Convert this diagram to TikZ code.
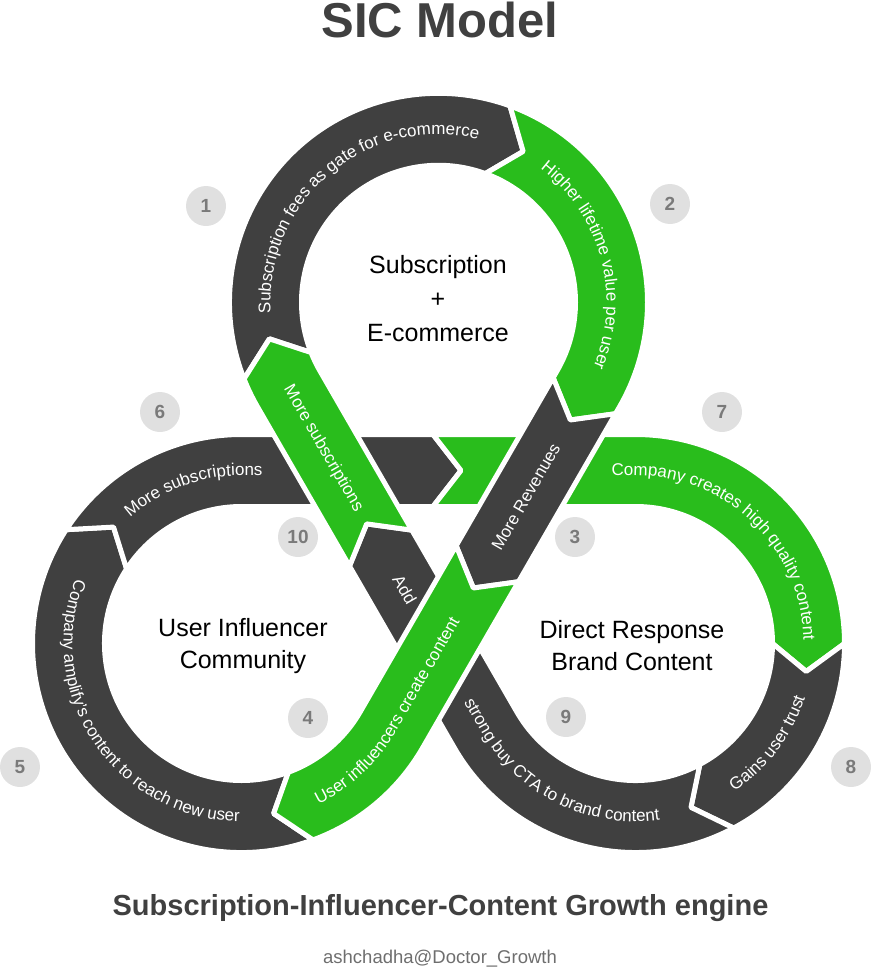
\documentclass[tikz,border=0pt]{standalone}
\usepackage{fontspec}
\setmainfont{Liberation Sans}
\usetikzlibrary{calc,decorations.text}
\definecolor{bandgray}{RGB}{64,64,64}
\definecolor{bandgreen}{RGB}{41,189,28}
\definecolor{badgefill}{RGB}{224,224,224}
\definecolor{badgetext}{RGB}{122,122,122}
\definecolor{credittext}{RGB}{110,110,110}
\newcommand{\bandfont}{\fontsize{17}{17}\selectfont}
\tikzset{
  darkband/.style={draw=white, line width=5pt, line join=round, fill=bandgray},
  greenband/.style={draw=white, line width=5pt, line join=round, fill=bandgreen},
  badge/.style={circle, fill=badgefill, text=badgetext, minimum size=40pt, inner sep=0pt,
    font=\fontsize{19}{19}\selectfont\bfseries},
  hub/.style={align=center, font=\fontsize{25}{34}\selectfont},
  bandtext/.style={text=white, font=\bandfont, inner sep=0pt},
  curved/.style={decorate, decoration={text along path, text align=center,
    text color=white, text={|\bandfont|#1}}}
}

\begin{document}
\begin{tikzpicture}[x=1pt,y=-1pt]
\useasboundingbox (0,0) rectangle (872,969);
\coordinate (T) at (438.5,302.3);
\coordinate (L) at (241.5,643.5);
\coordinate (R) at (635.5,643.5);
\draw[darkband] ($(T)+(158.5:209)$) arc[start angle=158.5,end angle=290,radius=209]
  -- ($(T)+(299.3:173)$) -- ($(T)+(290:137)$) arc[start angle=290,end angle=158.5,radius=137]
  -- ($(T)+(167.8:173)$) -- cycle;
\draw[greenband] ($(T)+(290:209)$) arc[start angle=290,end angle=390,radius=209]
  -- ($(T)+(30:209)+(120:8)$) -- ($(T)+(30:173)+(120:36)$) -- ($(T)+(30:137)+(120:8)$)
  -- ($(T)+(30:137)$) arc[start angle=30,end angle=-70,radius=137]
  -- ($(T)+(299.3:173)$) -- cycle;
\draw[darkband] ($(L)+(70:209)$) arc[start angle=70,end angle=213,radius=209]
  -- ($(L)+(222.3:173)$) -- ($(L)+(213:137)$) arc[start angle=213,end angle=70,radius=137]
  -- ($(L)+(79.3:173)$) -- cycle;
\draw[darkband] ($(L)+(213:209)$) arc[start angle=213,end angle=270,radius=209]
  -- ($(L)+(270:209)+(191.5,0)$) -- ($(L)+(270:173)+(219.5,0)$) -- ($(L)+(270:137)+(191.5,0)$)
  -- ($(L)+(270:137)$) arc[start angle=270,end angle=213,radius=137]
  -- ($(L)+(222.3:173)$) -- cycle;
\draw[greenband] ($(L)+(270:209)+(191.5,0)$) -- ($(R)+(270:209)$) arc[start angle=270,end angle=360,radius=209]
  -- ($(R)+(9.3:173)$) -- ($(R)+(0:137)$) arc[start angle=360,end angle=270,radius=137]
  -- ($(L)+(270:137)+(191.5,0)$) -- ($(L)+(270:173)+(219.5,0)$) -- cycle;
\draw[darkband] ($(R)+(0:209)$) arc[start angle=0,end angle=62,radius=209]
  -- ($(R)+(71.3:173)$) -- ($(R)+(62:137)$) arc[start angle=62,end angle=0,radius=137]
  -- ($(R)+(9.3:173)$) -- cycle;
\draw[darkband] ($(R)+(62:209)$) arc[start angle=62,end angle=150,radius=209]
  -- ($(R)+(150:209)+(240:210)$) -- ($(R)+(150:173)+(240:238)$) -- ($(R)+(150:137)+(240:210)$)
  -- ($(R)+(150:137)$) arc[start angle=150,end angle=62,radius=137]
  -- ($(R)+(71.3:173)$) -- cycle;
\draw[greenband] ($(R)+(150:209)+(240:210)$) -- ($(T)+(150:209)$) arc[start angle=150,end angle=158.5,radius=209]
  -- ($(T)+(167.8:173)$) -- ($(T)+(158.5:137)$) arc[start angle=158.5,end angle=150,radius=137]
  -- ($(R)+(150:137)+(240:210)$) -- ($(R)+(150:173)+(240:238)$) -- cycle;
\draw[darkband] ($(T)+(30:209)+(120:8)$) -- ($(T)+(30:209)+(120:202)$) -- ($(T)+(30:173)+(120:230)$)
  -- ($(T)+(30:137)+(120:202)$) -- ($(T)+(30:137)+(120:8)$) -- ($(T)+(30:173)+(120:36)$) -- cycle;
\draw[greenband] ($(T)+(30:209)+(120:202)$) -- ($(L)+(30:209)$) arc[start angle=30,end angle=70,radius=209]
  -- ($(L)+(79.3:173)$) -- ($(L)+(70:137)$) arc[start angle=70,end angle=30,radius=137]
  -- ($(T)+(30:137)+(120:202)$) -- ($(T)+(30:173)+(120:230)$) -- cycle;

\path[curved={Subscription fees as gate for e-commerce}] ($(T)+(150:168)$) arc[start angle=150,end angle=310,radius=168];
\path[curved={Higher lifetime value per user}] ($(T)+(295:168)$) arc[start angle=295,end angle=395,radius=168];
\path[curved={Company amplify's content to reach new user}] ($(L)+(226:178)$) arc[start angle=226,end angle=66,radius=178];
\path[curved={More subscriptions}] ($(L)+(222:168)$) arc[start angle=222,end angle=270,radius=168] -- ++(40,0);
\path[curved={Company creates high quality content}] ($(L)+(270:168)+(320,0)$) -- ($(R)+(270:168)$) arc[start angle=270,end angle=376,radius=168];
\path[curved={Gains user trust}] ($(R)+(75:178)$) arc[start angle=75,end angle=-1,radius=178];
\path[curved={strong buy CTA to brand content}] ($(R)+(150:178)+(240:40)$) -- ($(R)+(150:178)$) arc[start angle=150,end angle=80.5,radius=178];
\path[curved={User influencers create content}] ($(L)+(67:178)$) arc[start angle=67,end angle=30,radius=178] -- ++(300:137);
\node[bandtext, rotate=60] (revenues) at ($(T)+(30:173)+(120:125)$) {More Revenues};
\node[bandtext, rotate=-60] (moresubs) at ($(R)+(150:173)+(240:325)$) {More subscriptions};
\node[bandtext, rotate=-60] (add) at ($(R)+(150:173)+(240:162)$) {Add};

\node[hub] (top) at (438,299) {Subscription\\+\\E-commerce};
\node[hub, font=\fontsize{25}{32}\selectfont] (community) at (243,646) {User Influencer\\Community};
\node[hub, font=\fontsize{25}{32}\selectfont] (brand) at (632,646) {Direct Response\\Brand Content};

\node[badge] (n1) at (206,206) {1};
\node[badge] (n2) at (670,204) {2};
\node[badge] (n3) at (575,537) {3};
\node[badge] (n4) at (308,718) {4};
\node[badge] (n5) at (20,767) {5};
\node[badge] (n6) at (160,412) {6};
\node[badge] (n7) at (722,412) {7};
\node[badge] (n8) at (851,767) {8};
\node[badge] (n9) at (566,717) {9};
\node[badge] (n10) at (298,537) {10};

\node[anchor=base, text=bandgray, font=\fontsize{49}{49}\selectfont\bfseries] (title) at (440,37.5) {SIC Model};
\node[anchor=base, text=bandgray, font=\fontsize{29}{29}\selectfont\bfseries] (engine) at (440.5,915) {Subscription-Influencer-Content Growth engine};
\node[anchor=base, text=credittext, font=\fontsize{18.5}{18.5}\selectfont] (credit) at (440,963.5) {ashchadha@Doctor\_Growth};
\end{tikzpicture}
\end{document}
